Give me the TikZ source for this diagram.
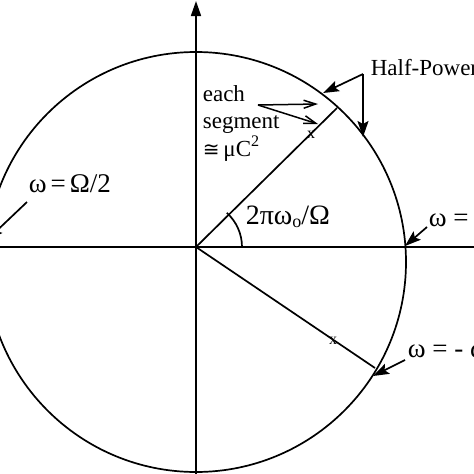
\documentclass[tikz,border=0pt]{standalone}
\usepackage{fontspec}
\setmainfont{Liberation Serif}
\newfontfamily\dvs{DejaVu Sans}
\usetikzlibrary{arrows.meta}
\begin{document}
\begin{tikzpicture}[x=1pt,y=-1pt, line width=1.7pt,
  big/.style={font=\fontsize{27}{27}\selectfont, inner sep=0pt, anchor=base west},
  small/.style={font=\fontsize{23}{23}\selectfont, inner sep=0pt, anchor=base west},
  xmark/.style={font=\fontsize{16}{16}\selectfont, inner sep=0pt},
  fillarrow/.style={-{Stealth[length=16pt,width=11pt,inset=3pt]}},
  barb/.style={-{Straight Barb[length=12pt,width=8pt]}, line width=1.5pt}]
\clip (0,0) rectangle (474,474);
\coordinate (O) at (196,247);
\coordinate (C) at (196,262);
\coordinate (Xl) at (0,247);
\coordinate (Xr) at (474,247);
\coordinate (Yb) at (196,474);
\coordinate (Yt) at (196,1);
\coordinate (P1) at (337,108);
\coordinate (P2) at (375,368);
% circle and axes
\draw (C) circle[radius=210];
\draw (Xl) -- (Xr);
\draw[-{Triangle[length=15pt,width=10pt]}] (Yb) -- (Yt);
% radial lines
\draw (O) -- (P1);
\draw (O) -- (P2);
\draw (242,247) arc[start angle=0,end angle=-48,radius=46];
\node[xmark] (x1) at (311,135) {x};
\node[xmark] (x2) at (333,341) {x};
% Half-Power
\node[small] (hp) at (370,75) {Half-Power};
\coordinate (V) at (363,74);
\coordinate (H1) at (323,93);
\coordinate (H2) at (363,137);
\draw[fillarrow] (V) -- (H1);
\draw[fillarrow] (V) -- (H2);
% each segment
\node[small] (each) at (202,101) {each};
\node[small] (seg) at (202,128) {segment};
\node[small] (mu) at (202,156) {{\dvs\fontsize{20}{20}\selectfont ≅}\,μC\textsuperscript{2}};
\coordinate (A) at (258,105);
\coordinate (S1) at (318,104);
\coordinate (S2) at (318,124);
\draw[barb] (A) -- (S1);
\draw[barb] (A) -- (S2);
% omega = Omega/2
\node[big] (wom) at (28,192) {ω\kern4pt=\kern4ptΩ/2};
\coordinate (L1) at (27,202);
\coordinate (L2) at (-13,240);
\draw[fillarrow] (L1) -- (L2);
% angle label
\node[big] (ang) at (245,224) {\fontsize{28}{28}\selectfont 2πω\raisebox{-0.25ex}{\fontsize{18}{18}\selectfont o}/Ω};
% right labels
\node[big] (w0) at (428,226) {ω =};
\coordinate (R1) at (427,227);
\coordinate (R2) at (405,246);
\draw[fillarrow] (R1) -- (R2);
\node[big] (wm) at (407,357) {ω = - ω};
\coordinate (B1) at (405,360);
\coordinate (B2) at (373,376);
\draw[fillarrow] (B1) -- (B2);
\end{tikzpicture}
\end{document}
